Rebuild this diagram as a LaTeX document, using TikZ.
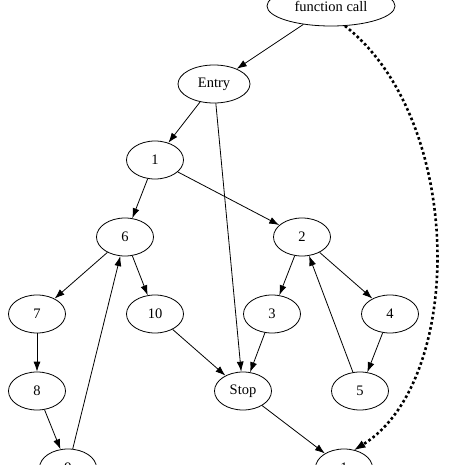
\documentclass[tikz,border=0pt]{standalone}
\usepackage{fontspec}
\setmainfont{Liberation Serif}
\usetikzlibrary{shapes.geometric,arrows.meta}
\tikzset{
  block/.style={draw,ellipse,line width=0.8pt,inner sep=0pt,
    minimum width=57pt,minimum height=38pt,
    font=\fontsize{14.5}{17}\selectfont},
  edge/.style={line width=0.8pt,-{Latex[length=10pt,width=7pt]}},
  callret/.style={line width=2.6pt,dash pattern=on 2.6pt off 2.6pt,
    -{Latex[length=11pt,width=8pt,line width=0pt]}}
}
\begin{document}
\begin{tikzpicture}[x=1pt,y=-1pt]
      \useasboundingbox (0,0) rectangle (465,465);
      \clip (0,0) rectangle (465,465);
      \draw
        (331,6) node[block,minimum width=128pt,minimum height=40pt] (call){function call}
        (214,84) node[block,minimum width=72pt] (entry){Entry}
        (155,160) node[block] (1){1}
        (125,237) node[block] (6){6}
        (302,237) node[block] (2){2}
        (37,314) node[block] (7){7}
        (155,314) node[block] (10){10}
        (272,314) node[block] (3){3}
        (390,314) node[block] (4){4}
        (37,391) node[block] (8){8}
        (243,391) node[block] (stop){Stop}
        (360,391) node[block] (5){5}
        (68,468) node[block] (9){9}
        (344,468) node[block] (ret){1};
      \begin{scope}[edge]
        \draw (call) to (entry);
        \draw (entry) to (1);
        \draw (entry) to (stop);
        \draw (1) to (6);
        \draw (1) to (2);
        \draw (6) to (7);
        \draw (6) to (10);
        \draw (7) to (8);
        \draw (8) to (9);
        \draw (9) to (6);
        \draw (10) to (stop);
        \draw (2) to (3);
        \draw (2) to (4);
        \draw (3) to (stop);
        \draw (4) to (5);
        \draw (5) to (2);
        \draw (stop) to (ret);
      \end{scope}
      \draw[callret] (call.-55) .. controls (465,120) and (465,380) .. (ret.60);
    \end{tikzpicture}
\end{document}
